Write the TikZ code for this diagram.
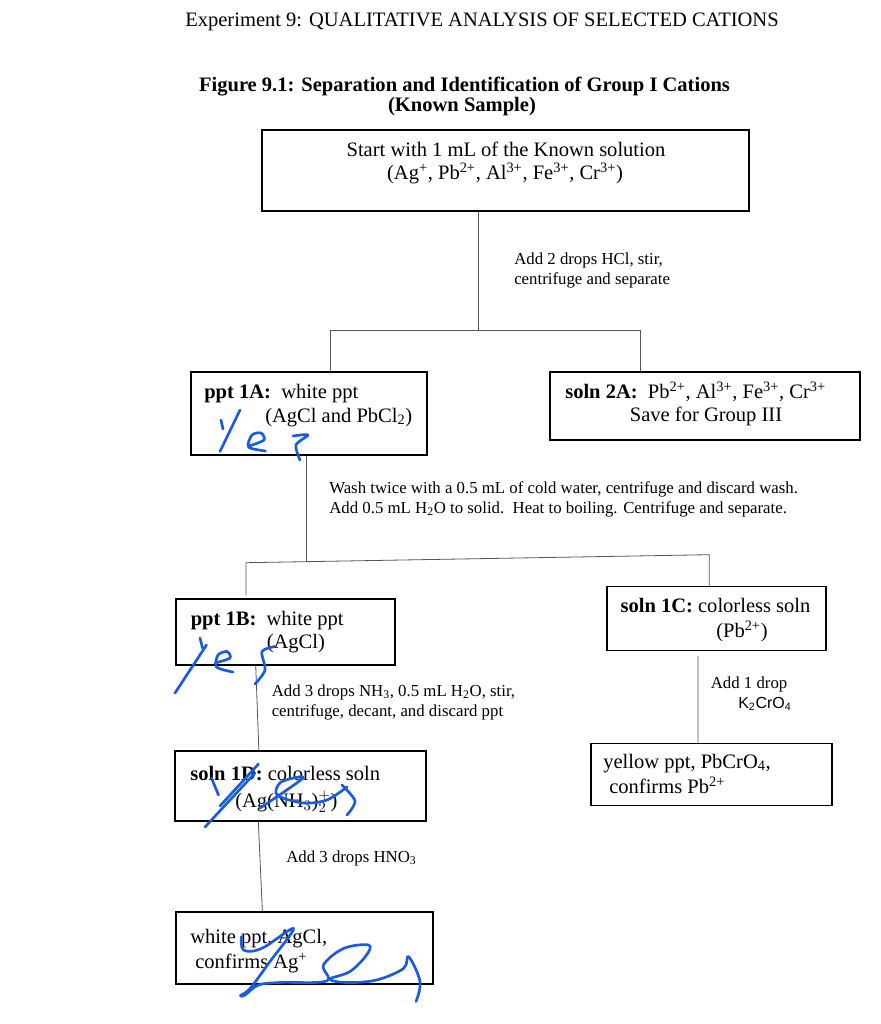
\documentclass[tikz,border=0pt]{standalone}
\usepackage{fontspec}
\setmainfont{Liberation Serif}
\newfontfamily\chemsans{Liberation Sans}
\usetikzlibrary{positioning, calc}
\newcommand{\px}{0.75pt}
\definecolor{pen}{HTML}{1A5BE0}
\definecolor{wire}{HTML}{555555}
\tikzset{
  stepbox/.style={draw=black, line width=1.1pt, inner sep=0pt},
  btxt/.style={font=\fontsize{15.4}{18.5}\selectfont, inner sep=0pt},
  note/.style={font=\fontsize{12.6}{15}\selectfont, inner sep=0pt, align=left},
  wire/.style={draw=wire, line width=0.6pt},
  ink/.style={draw=pen, line width=2pt, line cap=round, line join=round},
}

\begin{document}
\begin{tikzpicture}[x=\px, y=-\px]
  \useasboundingbox (0,0) rectangle (881,1024);

  % headings
  \node[btxt, anchor=base] (head) at (482,27) {Experiment 9: QUALITATIVE ANALYSIS OF SELECTED CATIONS};
  \node[btxt, anchor=base] (fig1) at (464.5,91) {\bfseries Figure 9.1: Separation and Identification of Group I Cations};
  \node[btxt, anchor=base] (fig2) at (462,112) {\bfseries (Known Sample)};

  % boxes
  \node[stepbox, minimum width=487*\px, minimum height=81*\px] (start) at (505.5,170.5) {};
  \node[stepbox, minimum width=236*\px, minimum height=83*\px] (ppt1A) at (309,413.5) {};
  \node[stepbox, minimum width=310*\px, minimum height=68*\px] (soln2A) at (705,406) {};
  \node[stepbox, minimum width=219*\px, minimum height=66*\px] (ppt1B) at (285.5,632) {};
  \node[stepbox, minimum width=219*\px, minimum height=64*\px] (soln1C) at (716.5,618.5) {};
  \node[stepbox, minimum width=241*\px, minimum height=62*\px] (yellow) at (711.5,774.5) {};
  \node[stepbox, minimum width=251*\px, minimum height=70*\px] (soln1D) at (300.5,786) {};
  \node[stepbox, minimum width=257*\px, minimum height=72*\px] (white) at (304.5,948) {};

  % box texts
  \node[btxt, anchor=base] (tS1) at (506,156) {Start with 1 mL of the Known solution};
  \node[btxt, anchor=base] (tS2) at (505,179) {(Ag\textsuperscript{+}, Pb\textsuperscript{2+}, Al\textsuperscript{3+}, Fe\textsuperscript{3+}, Cr\textsuperscript{3+})};
  \node[btxt, anchor=base west] (t1A1) at (204,398) {\textbf{ppt 1A:}\ \ white ppt};
  \node[btxt, anchor=base west] (t1A2) at (265,422) {(AgCl and PbCl\textsubscript{2})};
  \node[btxt, anchor=base west] (t2A1) at (565,398) {\textbf{soln 2A:}\ \ Pb\textsuperscript{2+}, Al\textsuperscript{3+}, Fe\textsuperscript{3+}, Cr\textsuperscript{3+}};
  \node[btxt, anchor=base] (t2A2) at (706,421) {Save for Group III};
  \node[btxt, anchor=base west] (t1B1) at (190.5,625) {\textbf{ppt 1B:}\ \ white ppt};
  \node[btxt, anchor=base west] (t1B2) at (266.5,648) {(AgCl)};
  \node[btxt, anchor=base] (t1C1) at (715.5,612.5) {\textbf{soln 1C:} colorless soln};
  \node[btxt, anchor=base west] (t1C2) at (716,637) {(Pb\textsuperscript{2+})};
  \node[btxt, anchor=base west] (tY1) at (603,768) {yellow ppt, PbCrO\textsubscript{4},};
  \node[btxt, anchor=base west] (tY2) at (609,793) {confirms Pb\textsuperscript{2+}};
  \node[btxt, anchor=base west] (t1D1) at (190,780) {\textbf{soln 1D:} colorless soln};
  \node[btxt, anchor=base west] (t1D2) at (235,807.5) {(Ag(NH$_3$)$_2^+$)};
  \node[btxt, anchor=base west] (tW1) at (190,943) {white ppt, AgCl,};
  \node[btxt, anchor=base west] (tW2) at (195,968) {confirms Ag\textsuperscript{+}};

  % step notes (base = last line)
  \node[note, anchor=base west] (n1) at (514,284) {Add 2 drops HCl, stir,\\centrifuge and separate};
  \node[note, anchor=base west] (n2) at (329,513) {Wash twice with a 0.5 mL of cold water, centrifuge and discard wash.\\Add 0.5 mL H\textsubscript{2}O to solid.\ \ Heat to boiling. Centrifuge and separate.};
  \node[note, anchor=base west] (n3) at (271.5,716) {Add 3 drops NH\textsubscript{3}, 0.5 mL H\textsubscript{2}O, stir,\\centrifuge, decant, and discard ppt};
  \node[note, anchor=base west] (n4) at (710.5,688) {Add 1 drop};
  \node[note, anchor=base west, font=\chemsans\fontsize{12}{14}\selectfont] (n5) at (738,708) {K\textsubscript{2}CrO\textsubscript{4}};
  \node[note, anchor=base west] (n6) at (286,862) {Add 3 drops HNO\textsubscript{3}};

  % connectors
  \coordinate (j1) at (478,330);
  \coordinate (j1l) at (330,330);
  \coordinate (j1r) at (640,330);
  \draw[wire] (start.south -| j1) -- (j1);
  \draw[wire] (ppt1A.north -| j1l) -- (j1l) -- (j1r) -- (soln2A.north -| j1r);

  \coordinate (j2) at (306.5,562);
  \coordinate (j2l) at (246,562.7);
  \coordinate (j2r) at (709.3,554.7);
  \draw[wire] (ppt1A.south -| j2) -- (j2);
  \draw[wire] ($(ppt1B.north -| j2l)+(0,-3)$) -- (j2l) -- (j2r) -- (soln1C.north -| j2r);

  \draw[wire] ($(ppt1B.south west)!0.365!(ppt1B.south east)$) -- ($(soln1D.north west)!0.335!(soln1D.north east)$);
  \draw[wire] ($(soln1D.south west)!0.333!(soln1D.south east)$) -- ($(white.north west)!0.337!(white.north east)$);
  \draw[wire] ($(soln1C.south west)!0.416!(soln1C.south east)+(0,5)$) -- ($(yellow.north west)!0.444!(yellow.north east)$);

  % handwritten marks
  \draw[ink] (221,420) -- (223,429);
  \draw[ink] (240,410) -- (220,451.5);
  \draw[ink] plot[smooth] coordinates {(249,446) (264,440) (261,433) (252,435) (248.5,447) (265.5,451)};
  \draw[ink] plot[smooth] coordinates {(293,436) (308,435) (296,445) (300,460)};

  \draw[ink] (200,638) -- (202.5,648);
  \draw[ink] (206.5,645) -- (175,693);
  \draw[ink] plot[smooth] coordinates {(215,663) (230,658) (227,651.5) (218,655) (216.5,667) (233,672)};
  \draw[ink] plot[smooth] coordinates {(275,646.5) (262,651.5) (265,670) (255,684)};

  \draw[ink] (211.5,778) -- (218.5,795);
  \draw[ink] (258.5,764) -- (220,806);
  \draw[ink] (255,773) -- (205,827);
  \draw[ink] plot[smooth] coordinates {(260,808) (303,778) (281,782) (277,795) (303,803) (327,800) (347,787)};
  \draw[ink] plot[smooth] coordinates {(342,785) (355,801) (347,815)};

  \draw[ink] plot[smooth, tension=0.6] coordinates {(241.5,936.5) (243.5,950) (261.5,948.5) (293.5,928.5) (270,961.5) (250,988.5) (240.5,995.5) (245,995) (258.5,985) (280,982.5) (326.5,981) (323.5,965) (343.5,948.5) (368.5,945) (366.5,955) (350,971.5) (330,979) (346.5,982.5) (376.5,980) (403.5,968.5) (408.5,956.5) (420,981.5) (416,1001.5)};
\end{tikzpicture}
\end{document}
